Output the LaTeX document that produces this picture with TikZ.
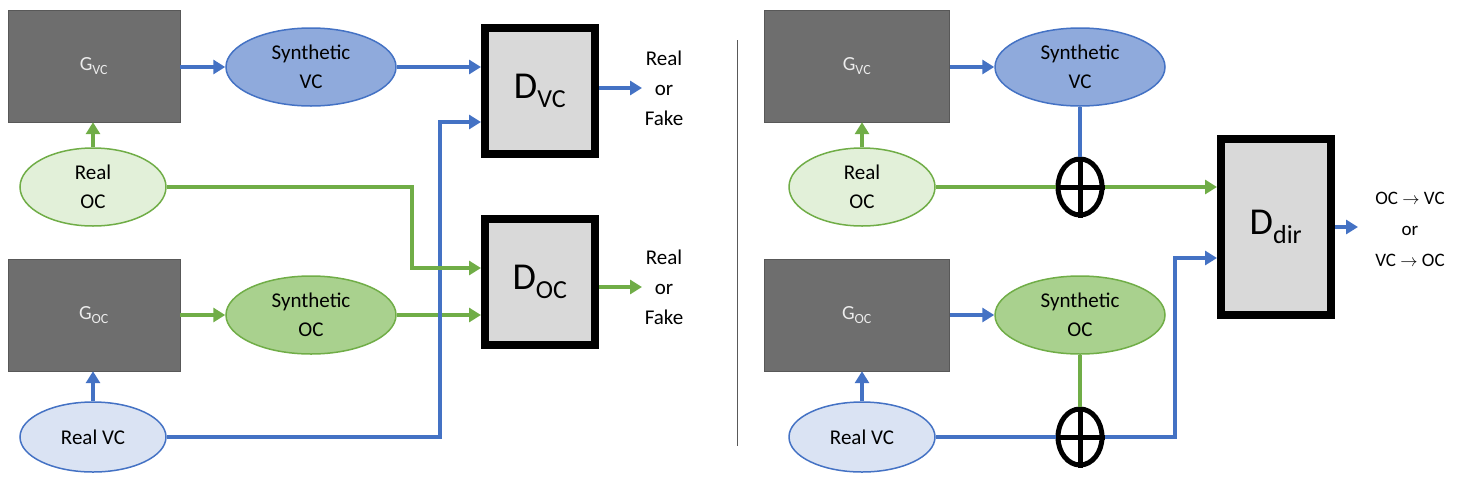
\documentclass[tikz,border=0pt]{standalone}
\usepackage{fontspec}
\setmainfont{Carlito}
\usetikzlibrary{arrows.meta,shapes.geometric}
\definecolor{gbox}{HTML}{6E6E6E}
\definecolor{bl}{HTML}{4472C4}
\definecolor{gr}{HTML}{70AD47}
\definecolor{synb}{HTML}{8FAADC}
\definecolor{syng}{HTML}{A9D18E}
\definecolor{realb}{HTML}{DAE3F3}
\definecolor{realg}{HTML}{E2F0D9}
\begin{document}
\begin{tikzpicture}[x=1pt,y=-1pt,
  gen/.style={draw=gbox!80!black,fill=gbox,minimum width=172pt,minimum height=112pt,text=white!85!gray,font=\fontsize{20}{22}\selectfont},
  ell/.style={ellipse,draw,line width=1.5pt,minimum width=170pt,minimum height=78pt,inner sep=0pt,align=center,font=\fontsize{21}{29}\selectfont},
  disc/.style={draw=black,line width=8pt,fill=gray!30,minimum width=110pt,minimum height=126pt,font=\fontsize{38}{40}\selectfont},
  op/.style={ellipse,draw=black,line width=5pt,minimum width=44pt,minimum height=56pt,inner sep=0pt},
  bA/.style={draw=bl,line width=4pt,-{Triangle[length=12pt,width=14pt]}},
  gA/.style={draw=gr,line width=4pt,-{Triangle[length=12pt,width=14pt]}},
  bL/.style={draw=bl,line width=4pt},
  gL/.style={draw=gr,line width=4pt},
  lab/.style={align=center,font=\fontsize{21}{30}\selectfont}]
\useasboundingbox (0,0) rectangle (1463,488);
% left panel
\node[gen] (gvc) at (94,66) {G\textsubscript{VC}};
\node[ell,fill=synb,draw=bl] (svc) at (311,67) {Synthetic\\VC};
\node[disc,minimum height=126pt] (dvc) at (540,91) {D\textsubscript{\fontsize{26}{28}\selectfont VC}};
\node[lab] (rf1) at (664,88) {Real\\or\\Fake};
\node[ell,fill=realg,draw=gr,minimum width=146pt] (roc) at (93,187) {Real\\OC};
\node[gen] (goc) at (94,315) {G\textsubscript{OC}};
\node[ell,fill=syng,draw=gr] (soc) at (311,315) {Synthetic\\OC};
\node[disc] (doc) at (540,282) {D\textsubscript{\fontsize{26}{28}\selectfont OC}};
\node[lab] (rf2) at (664,287) {Real\\or\\Fake};
\node[ell,fill=realb,draw=bl,minimum width=146pt,minimum height=70pt] (rvc) at (93,437) {Real VC};
\coordinate (c1) at (440,437); \coordinate (c2) at (440,122);
\coordinate (c3) at (412,187); \coordinate (c4) at (412,268);
\draw[gA] (roc.north) -- (roc.north|-gvc.south);
\draw[bA] (rvc.north) -- (rvc.north|-goc.south);
\draw[bA] (gvc.east|-svc) -- (svc.west);
\draw[bA] (svc.east) -- (dvc.west|-svc);
\draw[gA] (goc.east|-soc) -- (soc.west);
\draw[gA] (soc.east) -- (doc.west|-soc);
\draw[bA] (rvc.east) -- (c1) -- (c2) -- (dvc.west|-c2);
\draw[gA] (roc.east) -- (c3) -- (c4) -- (doc.west|-c4);
\draw[bA] (dvc.east|-rf1) -- ([xshift=-22pt]rf1.center);
\draw[gA] (doc.east|-rf2) -- ([xshift=-22pt]rf2.center);
% divider
\coordinate (d1) at (737,40); \coordinate (d2) at (737,446);
\draw[gray!70!black,line width=1pt] (d1) -- (d2);
% right panel
\node[gen,minimum width=185pt] (gvc2) at (857,66) {G\textsubscript{VC}};
\node[ell,fill=synb,draw=bl] (svc2) at (1080,67) {Synthetic\\VC};
\node[ell,fill=realg,draw=gr,minimum width=146pt] (roc2) at (862,187) {Real\\OC};
\node[gen,minimum width=185pt] (goc2) at (857,315) {G\textsubscript{OC}};
\node[ell,fill=syng,draw=gr] (soc2) at (1080,315) {Synthetic\\OC};
\node[ell,fill=realb,draw=bl,minimum width=146pt,minimum height=70pt] (rvc2) at (862,437) {Real VC};
\node[disc,minimum width=110pt,minimum height=176pt] (ddir) at (1276,227) {D\textsubscript{\fontsize{26}{28}\selectfont dir}};
\node[lab,font=\fontsize{19}{31}\selectfont] (out) at (1410,229) {OC $\rightarrow$ VC\\or\\VC $\rightarrow$ OC};
\coordinate (oa) at (1358,227);
\node[op] (o1) at (1080,187) {};
\node[op] (o2) at (1080,437) {};
\coordinate (e1) at (1175,437); \coordinate (e2) at (1175,258);
\draw[gA] (roc2.north) -- (roc2.north|-gvc2.south);
\draw[bA] (rvc2.north) -- (rvc2.north|-goc2.south);
\draw[bA] (gvc2.east|-svc2) -- (svc2.west);
\draw[bA] (goc2.east|-soc2) -- (soc2.west);
\draw[bL] (svc2.south) -- (o1.north);
\draw[gL] (soc2.south) -- (o2.north);
\draw[gL] (roc2.east) -- (o1.west);
\draw[gA] (o1.east) -- (ddir.west|-o1);
\draw[bL] (rvc2.east) -- (o2.west);
\draw[bA] (o2.east) -- (e1) -- (e2) -- (ddir.west|-e2);
\draw[bA] (ddir.east) -- (oa);
\draw[black,line width=5pt] (o1.north) -- (o1.south) (o1.west) -- (o1.east);
\draw[black,line width=5pt] (o2.north) -- (o2.south) (o2.west) -- (o2.east);
\end{tikzpicture}
\end{document}
